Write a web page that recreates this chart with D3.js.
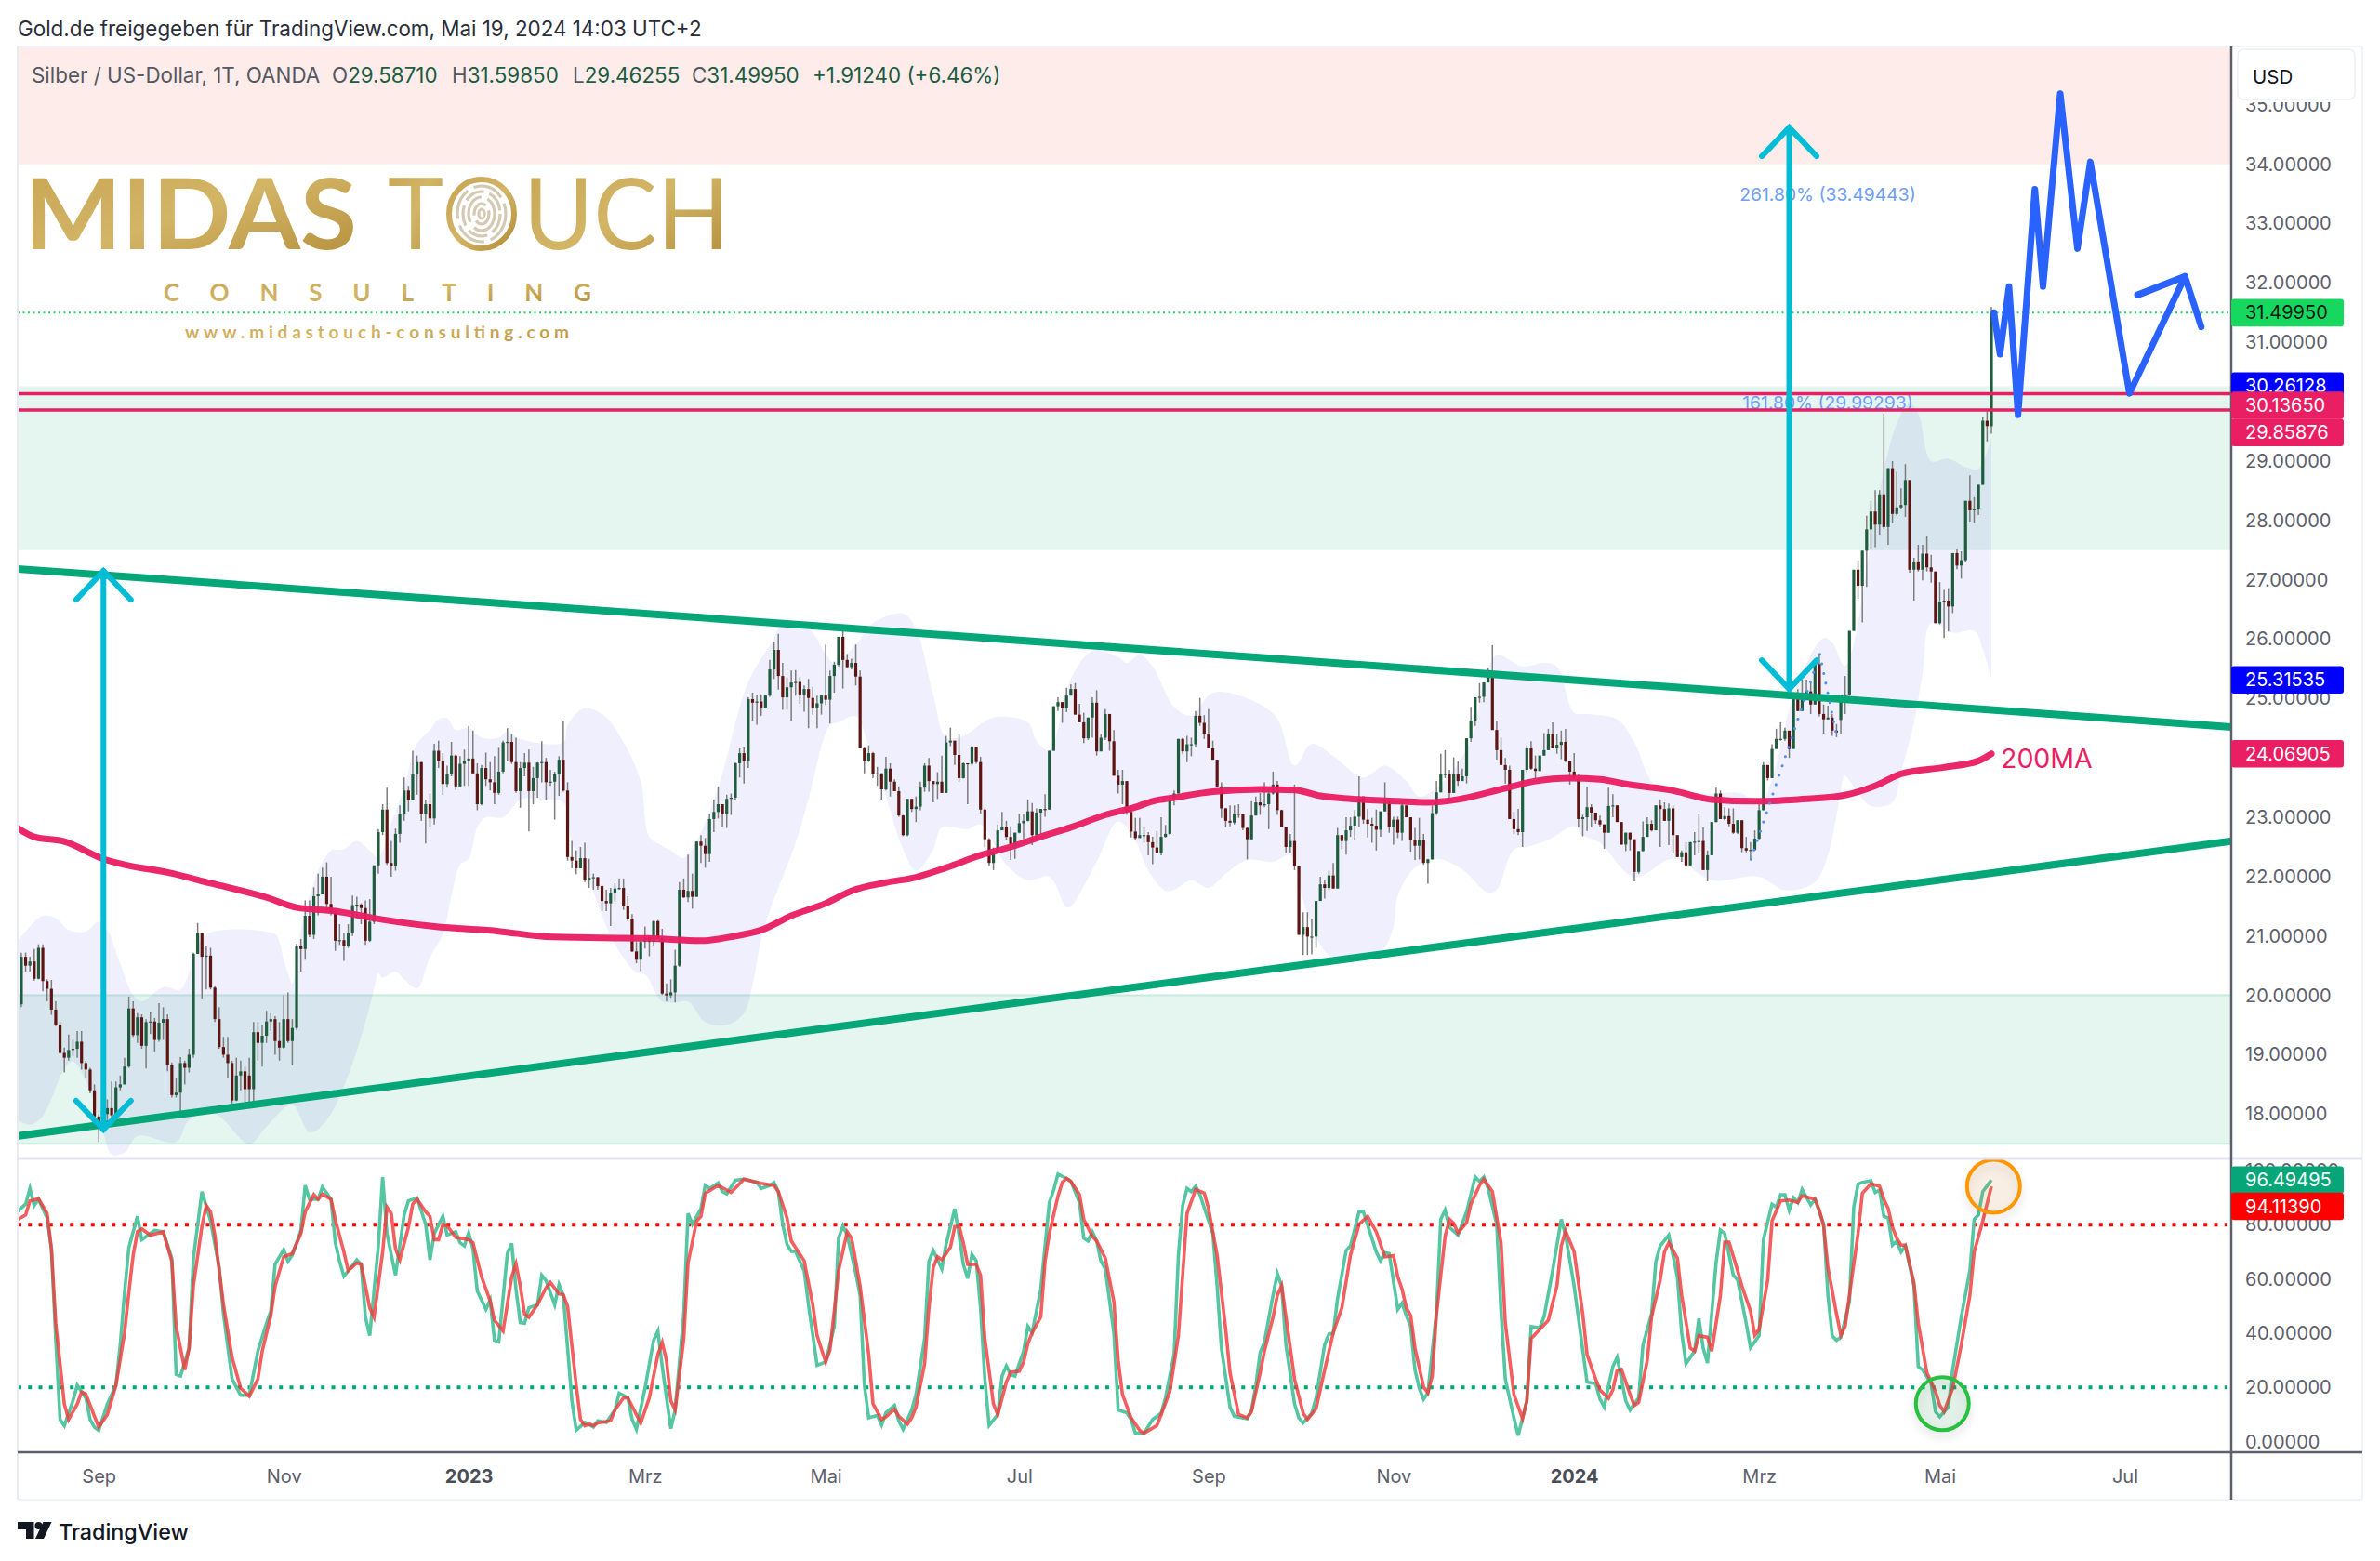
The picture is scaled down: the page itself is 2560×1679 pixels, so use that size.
<!DOCTYPE html>
<html><head><meta charset="utf-8">
<style>html,body{margin:0;padding:0;background:#fff}svg{display:block}text{font-family:Inter,Roboto,sans-serif}</style>
<script src="https://cdn.jsdelivr.net/npm/d3@7/dist/d3.min.js"></script></head><body>
<svg id="c" width="2560" height="1679"></svg>
<script>
// ---------- data ----------
const opens=[20.15,19.85,20.65,20.5,20.57,20.28,20.8,20.24,20.11,19.76,
19.5,19.03,18.95,19.08,19.1,19.22,18.86,18.75,18.4,17.96,
17.88,18.0,18.1,17.98,18.45,18.5,18.8,19.78,19.33,19.63,
19.15,19.55,19.56,19.25,19.54,19.6,18.83,18.32,18.36,18.86,
18.78,19.0,20.7,21.05,20.65,20.67,20.13,19.6,19.13,19.0,
18.86,18.23,18.65,18.72,18.65,18.42,19.38,19.2,19.32,19.56,
19.6,19.23,19.12,19.6,19.23,19.45,20.83,20.78,21.34,21.02,
21.67,21.7,22.0,21.54,21.4,20.92,20.93,20.83,21.05,21.52,
21.53,21.47,20.92,21.24,22.19,22.75,23.13,22.23,22.18,22.72,
23.06,23.45,23.29,23.72,23.93,23.06,23.22,22.98,24.12,23.95,
23.56,23.72,24.04,23.52,23.9,23.95,23.99,23.74,23.22,23.83,
23.64,23.59,23.41,23.77,24.26,24.27,23.93,23.44,23.83,23.92,
23.44,23.66,23.92,23.93,23.59,23.6,23.73,23.97,23.45,22.33,
22.27,22.14,22.31,21.94,21.98,21.99,21.84,21.59,21.55,21.73,
21.8,21.81,21.5,21.29,20.74,20.6,20.9,20.98,20.9,21.25,
20.96,20.03,20.0,20.05,20.5,21.78,21.65,21.76,21.66,22.59,
22.52,22.38,22.97,23.09,23.22,23.05,23.31,23.33,23.91,24.08,
23.95,24.99,24.93,24.95,24.85,25.05,25.49,25.82,25.38,25.02,
25.19,25.27,25.28,25.07,25.16,25.01,24.85,24.92,25.05,24.98,
25.38,25.57,26.04,25.65,25.53,25.6,25.37,24.16,23.95,24.08,
23.73,23.74,23.47,23.82,23.6,23.44,23.03,22.7,23.31,23.14,
23.18,23.5,23.87,23.61,23.56,23.6,23.41,24.26,24.29,24.05,
23.66,23.91,23.9,24.19,23.93,23.13,22.63,22.23,22.41,22.78,
22.84,22.67,22.55,22.74,22.9,22.94,23.1,22.7,23.08,23.14,
23.13,24.12,24.87,24.94,24.84,25.05,25.16,24.73,24.6,24.33,
24.68,24.93,24.11,24.34,24.74,24.28,23.7,23.55,23.61,23.09,
22.76,22.65,22.7,22.7,22.58,22.49,22.4,22.67,22.72,23.3,
23.4,24.32,24.11,24.23,24.23,24.71,24.59,24.41,24.16,23.97,
23.52,23.15,22.94,22.91,23.06,23.05,22.82,22.63,23.03,23.25,
23.2,23.22,23.4,23.55,23.12,22.84,22.5,22.6,22.18,21.02,
21.15,20.99,20.99,21.59,21.87,21.81,22.02,21.8,22.7,22.6,
22.78,22.86,23.01,23.35,22.96,22.89,22.86,22.79,23.1,23.31,
22.84,22.96,22.74,23.2,23.0,22.61,22.52,22.62,22.23,22.29,
23.07,23.42,23.73,23.73,23.41,23.73,23.61,23.69,24.33,24.63,
25.02,25.03,25.27,25.36,24.47,24.13,23.88,23.8,22.97,22.8,
22.75,23.8,24.16,23.82,23.78,24.04,24.13,24.4,24.16,24.22,
24.27,23.95,23.77,23.64,22.97,23.0,23.17,23.08,22.95,22.88,
22.74,23.19,23.2,22.92,22.54,22.74,22.63,22.08,22.43,22.67,
22.89,22.78,23.2,23.14,22.94,23.15,22.7,22.33,22.41,22.19,
22.58,22.59,22.6,22.11,22.36,22.92,23.4,22.97,23.02,22.89,
22.74,22.95,22.48,22.44,22.45,22.64,23.12,23.88,23.66,24.15,
24.32,24.32,24.46,24.15,24.99,24.79,25.05,25.12,24.9,25.58,
24.74,24.65,24.68,24.46,24.64,24.97,25.07,26.14,27.17,26.9,
27.49,27.85,28.15,27.93,28.44,27.89,28.88,28.11,28.22,28.26,
28.68,27.17,27.31,27.17,27.44,27.21,27.14,26.27,26.63,26.65,
26.55,27.45,27.24,27.33,28.33,28.17,28.2,28.6,29.68,29.5871];
const highs=[20.25,20.72,20.72,20.65,20.78,20.86,20.86,20.27,20.26,19.9,
19.55,19.12,19.34,19.25,19.4,19.4,18.9,18.78,18.5,18.0,
18.2,18.25,18.55,18.55,18.65,18.95,19.98,19.9,19.7,19.68,
19.6,19.72,19.62,19.87,19.8,19.68,18.87,18.6,18.96,18.9,
19.1,20.72,21.22,21.05,20.84,20.8,20.15,19.8,19.3,19.3,
18.9,18.95,18.9,18.8,18.95,19.55,19.55,19.5,19.74,19.7,
19.65,19.55,20.0,20.05,19.6,20.87,20.95,21.6,21.6,21.82,
22.05,22.15,22.24,22.0,21.45,21.2,21.05,21.2,21.68,21.66,
21.55,21.6,21.62,22.19,22.8,23.22,23.5,22.6,22.81,23.2,
23.67,23.53,24.12,24.04,23.93,23.3,23.4,24.24,24.29,24.08,
23.87,24.27,24.06,24.03,24.14,24.54,24.46,23.91,23.88,24.09,
23.93,24.03,24.17,24.29,24.5,24.4,24.34,23.93,24.08,24.14,
23.85,23.93,24.28,24.0,23.8,23.77,24.03,24.63,23.59,22.6,
22.44,22.5,22.57,22.3,22.05,22.0,21.86,21.78,21.81,21.89,
21.97,21.97,21.67,21.37,20.9,20.98,21.16,21.0,21.26,21.27,
21.12,20.2,20.27,20.77,21.91,21.97,22.37,22.05,22.59,22.7,
22.65,23.06,23.3,23.52,23.22,23.38,23.4,23.92,24.16,24.18,
25.02,25.1,25.07,25.07,25.05,25.65,25.96,26.09,25.6,25.36,
25.47,25.48,25.36,25.22,25.33,25.2,25.05,25.05,25.91,25.47,
25.62,26.04,26.14,25.75,25.67,25.91,25.47,24.18,24.21,24.1,
23.85,23.74,24.02,23.91,23.64,23.52,23.04,23.31,23.31,23.35,
23.6,23.91,24.0,23.61,23.76,24.04,24.37,24.51,24.29,24.4,
23.92,23.91,24.21,24.19,24.02,23.15,22.65,22.49,22.88,23.09,
22.94,22.85,22.74,23.06,23.05,23.3,23.24,23.15,23.14,23.39,
24.12,24.87,25.02,24.94,25.18,25.24,25.26,24.91,24.76,24.68,
25.02,25.14,24.4,24.82,24.74,24.47,23.8,23.8,23.61,23.19,
22.99,22.99,22.83,22.75,22.67,22.77,23.0,22.87,23.33,23.45,
24.32,24.34,24.37,24.34,24.79,25.01,24.72,24.82,24.29,23.97,
23.59,23.16,23.2,23.2,23.22,23.06,22.84,23.27,23.35,23.41,
23.59,23.46,23.77,23.61,23.13,22.84,22.72,23.55,22.18,21.4,
21.4,21.29,21.59,22.0,21.94,22.1,22.23,22.82,22.7,23.0,
23.0,23.12,23.69,23.35,23.14,22.99,23.13,23.1,23.59,23.31,
23.01,23.01,23.27,23.2,23.0,22.82,22.99,22.72,22.3,23.2,
23.61,24.07,24.13,23.8,24.01,23.94,23.82,24.33,24.86,25.02,
25.26,25.27,25.52,25.9,24.63,24.34,24.0,23.87,23.09,23.14,
23.8,24.21,24.28,24.04,24.04,24.42,24.49,24.6,24.4,24.46,
24.49,23.95,24.08,23.72,23.04,23.51,23.22,23.08,23.03,22.88,
23.5,23.39,23.2,22.92,22.74,22.74,22.63,22.43,22.93,23.0,
22.95,23.2,23.3,23.25,23.23,23.2,22.7,22.44,22.58,22.58,
22.75,23.06,22.83,22.44,22.92,23.5,23.45,23.17,23.15,23.15,
22.95,22.95,22.67,22.58,22.78,23.25,23.93,23.88,24.23,24.49,
24.6,24.51,24.46,25.02,25.16,25.32,25.32,25.3,25.6,25.74,
24.9,24.88,24.74,24.57,25.0,25.38,26.14,27.17,27.33,27.49,
28.08,28.33,28.51,28.51,29.8,28.88,29.0,28.82,28.54,28.95,
28.68,27.37,27.59,27.59,27.73,27.42,27.14,26.96,26.83,26.86,
27.45,27.52,27.48,28.33,28.76,28.39,28.6,29.74,29.84,31.5985];
const lows=[19.55,19.8,20.4,20.4,20.25,20.27,20.07,19.9,19.67,19.48,
19.02,18.7,18.9,18.98,18.95,18.75,18.6,18.35,17.9,17.53,
17.75,17.9,17.85,17.85,18.4,18.5,18.78,19.3,19.2,19.1,
18.77,19.35,19.05,19.22,19.25,18.72,18.28,18.28,17.95,18.5,
18.7,18.95,20.7,19.95,20.1,20.1,19.55,19.1,18.95,18.6,
18.08,18.22,18.4,18.2,18.2,18.2,18.9,18.8,19.2,19.4,
19.0,18.9,19.1,19.2,18.82,19.42,20.4,20.6,20.98,20.95,
21.35,21.7,21.4,21.35,20.75,20.85,20.58,20.8,21.0,21.3,
21.2,20.85,20.9,21.2,22.05,22.7,22.2,22.0,22.1,22.57,
22.94,23.1,23.29,23.38,22.94,22.56,22.84,22.88,23.83,23.38,
23.5,23.69,23.46,23.52,23.53,23.53,23.74,23.12,23.2,23.53,
23.45,23.22,23.38,23.74,23.94,23.9,23.41,23.16,23.69,22.76,
23.22,23.33,23.59,23.29,23.53,22.96,23.36,23.43,22.27,22.14,
22.04,22.14,21.91,21.81,21.78,21.78,21.42,21.42,21.17,21.58,
21.78,21.44,21.25,20.73,20.54,20.41,20.79,20.66,20.84,20.95,
20.01,19.9,19.96,19.88,20.48,21.64,21.57,21.46,21.66,22.23,
22.15,22.25,22.75,22.98,22.84,22.82,23.04,23.3,23.67,23.57,
23.83,24.63,24.56,24.71,24.84,25.03,25.33,25.15,24.81,24.81,
24.63,25.05,24.91,24.78,24.5,24.73,24.5,24.73,24.89,24.58,
25.1,25.54,25.17,25.52,25.49,25.22,24.16,23.74,23.93,23.66,
23.53,23.3,23.45,23.35,23.44,23.01,22.68,22.68,23.09,22.92,
23.12,23.43,23.43,23.25,23.31,23.41,23.41,24.2,23.88,23.6,
23.65,23.22,23.87,23.9,23.06,22.49,22.18,22.11,22.4,22.78,
22.62,22.28,22.3,22.73,22.59,22.93,22.53,22.62,22.72,23.01,
23.13,24.12,24.79,24.59,24.77,25.05,24.73,24.6,24.25,24.3,
24.34,24.04,24.11,24.3,24.12,23.7,23.4,23.22,23.04,22.66,
22.61,22.67,22.57,22.36,22.21,22.39,22.36,22.66,22.7,23.2,
23.4,24.06,23.93,24.03,24.18,24.54,24.32,24.16,23.97,23.52,
22.99,22.83,22.85,22.88,22.99,22.78,22.29,22.63,23.03,23.04,
23.17,22.8,23.38,23.04,22.84,22.4,22.4,22.11,21.02,20.68,
20.68,20.69,20.8,21.59,21.63,21.78,21.8,21.8,22.46,22.37,
22.67,22.62,22.84,22.89,22.66,22.57,22.44,22.67,23.1,22.74,
22.54,22.65,22.6,23.0,22.42,22.28,22.29,22.2,21.88,22.29,
23.04,23.42,23.66,23.25,23.41,23.53,23.61,23.57,24.27,24.54,
24.93,24.94,25.27,24.47,23.97,23.88,23.57,22.97,22.71,22.7,
22.5,23.76,23.8,23.65,23.78,24.04,24.13,24.16,24.07,23.98,
23.93,23.55,23.64,22.83,22.68,22.77,22.83,22.89,22.83,22.47,
22.74,23.0,22.92,22.54,22.43,22.44,21.92,22.05,22.43,22.67,
22.76,22.78,22.5,22.94,22.53,22.39,22.33,22.25,22.16,22.19,
22.36,22.39,22.11,21.92,22.36,22.92,22.97,22.95,22.85,22.72,
22.72,22.41,22.41,22.28,22.44,22.62,23.12,23.62,23.66,24.15,
24.29,24.29,24.0,24.15,24.79,24.79,24.98,24.74,24.9,24.7,
24.41,24.65,24.37,24.35,24.4,24.74,25.05,26.14,26.68,26.28,
26.88,27.53,27.55,27.76,27.86,27.59,27.95,28.08,28.2,28.06,
27.12,26.65,27.14,26.99,27.14,26.95,26.27,26.25,26.02,26.13,
26.44,27.18,27.02,27.3,27.98,27.96,28.09,28.6,29.33,29.46255];
const closes=[19.85,20.65,20.5,20.57,20.28,20.8,20.24,20.11,19.76,19.5,
19.03,18.95,19.08,19.1,19.22,18.86,18.75,18.4,17.96,17.88,
18.0,18.1,17.98,18.45,18.5,18.8,19.78,19.33,19.63,19.15,
19.55,19.56,19.25,19.54,19.6,18.83,18.32,18.36,18.86,18.78,
19.0,20.7,21.05,20.65,20.67,20.13,19.6,19.13,19.0,18.86,
18.23,18.65,18.72,18.42,18.42,19.38,19.2,19.32,19.56,19.6,
19.23,19.12,19.6,19.23,19.45,20.83,20.78,21.34,21.02,21.67,
21.7,22.0,21.54,21.4,20.92,20.93,20.83,21.05,21.52,21.53,
21.47,20.92,21.24,22.19,22.75,23.13,22.23,22.18,22.72,23.06,
23.45,23.29,23.72,23.93,23.06,23.22,22.98,24.12,23.95,23.56,
23.72,24.04,23.52,23.9,23.95,23.99,23.74,23.22,23.83,23.64,
23.59,23.41,23.77,24.26,24.27,23.93,23.44,23.83,23.92,23.44,
23.66,23.92,23.93,23.59,23.6,23.73,23.97,23.45,22.33,22.27,
22.14,22.31,21.94,21.98,21.99,21.84,21.59,21.55,21.73,21.8,
21.81,21.5,21.29,20.74,20.6,20.9,20.98,20.9,21.25,20.96,
20.03,20.0,20.05,20.5,21.78,21.65,21.76,21.66,22.59,22.52,
22.38,22.97,23.09,23.22,23.05,23.31,23.33,23.91,24.08,23.95,
24.99,24.93,24.95,24.85,25.05,25.49,25.82,25.38,25.02,25.19,
25.27,25.28,25.07,25.16,25.01,24.85,24.92,25.05,24.98,25.38,
25.57,26.04,25.65,25.53,25.6,25.37,24.16,23.95,24.08,23.73,
23.74,23.47,23.82,23.6,23.44,23.03,22.7,23.31,23.14,23.18,
23.5,23.87,23.61,23.56,23.6,23.41,24.26,24.29,24.05,23.66,
23.91,23.9,24.19,23.93,23.13,22.63,22.23,22.41,22.78,22.84,
22.67,22.55,22.74,22.9,22.94,23.1,22.7,23.08,23.14,23.13,
24.12,24.87,24.94,24.84,25.05,25.16,24.73,24.6,24.33,24.68,
24.93,24.11,24.34,24.74,24.28,23.7,23.55,23.61,23.09,22.76,
22.65,22.7,22.7,22.58,22.49,22.4,22.67,22.72,23.3,23.4,
24.32,24.11,24.23,24.23,24.71,24.59,24.41,24.16,23.97,23.52,
23.15,22.94,22.91,23.06,23.05,22.82,22.63,23.03,23.25,23.2,
23.22,23.4,23.55,23.12,22.84,22.5,22.6,22.18,21.02,21.15,
20.99,20.99,21.59,21.87,21.81,22.02,21.8,22.7,22.6,22.78,
22.86,23.01,23.35,22.96,22.89,22.86,22.79,23.1,23.31,22.84,
22.96,22.74,23.2,23.0,22.61,22.52,22.62,22.23,22.29,23.07,
23.42,23.73,23.73,23.41,23.73,23.61,23.69,24.33,24.63,25.02,
25.03,25.27,25.36,24.47,24.13,23.88,23.8,22.97,22.8,22.75,
23.8,24.16,23.82,23.78,24.04,24.13,24.4,24.16,24.22,24.27,
23.95,23.77,23.64,22.97,23.0,23.17,23.08,22.95,22.88,22.74,
23.19,23.2,22.92,22.54,22.74,22.63,22.08,22.43,22.67,22.89,
22.78,23.2,23.14,22.94,23.15,22.7,22.33,22.41,22.19,22.58,
22.59,22.6,22.11,22.36,22.92,23.4,22.97,23.02,22.89,22.74,
22.95,22.48,22.44,22.45,22.64,23.12,23.88,23.66,24.15,24.32,
24.32,24.46,24.15,24.99,24.79,25.05,25.12,24.9,25.58,24.74,
24.65,24.68,24.46,24.43,24.97,25.07,26.14,27.17,26.9,27.49,
27.85,28.15,27.93,28.44,27.89,28.88,28.11,28.22,28.26,28.68,
27.17,27.31,27.17,27.44,27.21,27.14,26.27,26.63,26.65,26.55,
27.45,27.24,27.33,28.33,28.17,28.2,28.6,29.68,29.59,31.4995];

const maBars=[0,4,11,20,25,35,45,58,65,74,83,97,112,123,136,147,159,167,173,180,188,194,202,209,216,224,231,238,245,253,260,264,269,278,289,297,303,310,321,328,335,346,353,361,368,374,385,394,404,414,424,432,438,448,456,459];
const maVals=[22.82,22.67,22.59,22.3,22.2,22.07,21.89,21.65,21.48,21.42,21.3,21.16,21.08,20.99,20.97,20.96,20.92,21.0,21.1,21.34,21.55,21.76,21.9,21.99,22.15,22.36,22.5,22.67,22.83,23.04,23.17,23.27,23.33,23.43,23.47,23.46,23.36,23.31,23.27,23.25,23.3,23.49,23.61,23.66,23.64,23.56,23.45,23.3,23.27,23.3,23.36,23.53,23.73,23.84,23.95,24.07];

const upBars=[0,3,6,9,12,16,19,21,24,27,29,34,38,41,44,60,61,62,63,64,66,70,72,73,76,79,82,84,87,90,93,96,98,100,102,105,108,112,114,117,127,128,132,137,141,145,147,150,152,155,158,163,170,176,177,184,188,190,195,199,206,209,213,216,220,227,235,237,240,245,250,256,258,260,261,264,269,273,278,288,293,297,301,306,313,318,323,326,331,338,341,344,350,355,358,362,365,372,376,381,392,401,405,414,420,422,425,433,437,440,442,445,449,453,456,459];
const upVals=[20.9,21.16,21.34,21.3,21.1,21.08,21.24,21.1,20.53,20.0,19.9,20.14,20.1,20.6,21.03,21.03,20.9,20.6,20.37,20.2,21.1,22.1,22.36,22.44,22.46,22.6,22.44,22.33,22.9,23.5,24.24,24.47,24.65,24.67,24.47,24.5,24.34,24.34,24.45,24.32,24.26,24.55,24.84,24.68,24.26,23.61,22.67,22.52,22.44,22.31,22.6,23.5,25.28,26.01,26.17,26.17,25.75,25.6,25.91,26.27,26.43,26.17,25.07,24.34,24.37,24.68,24.6,24.29,24.13,25.33,25.8,25.7,25.6,25.7,25.75,25.54,24.86,24.71,25.1,24.94,24.66,23.87,24.24,24.03,23.67,23.87,23.61,23.35,23.56,24.29,25.28,25.73,25.54,25.6,25.54,24.76,24.74,24.65,24.26,23.53,23.4,23.4,23.2,25.27,26.02,25.94,25.55,28.51,29.63,29.97,29.8,29.0,29.04,28.9,28.87,29.4];
const loBars=[0,3,6,11,13,17,20,22,25,28,37,40,46,54,58,64,68,72,77,81,83,84,85,88,90,93,96,99,101,103,105,107,109,113,117,122,127,129,133,137,140,144,146,150,153,156,160,165,169,171,173,175,181,184,189,191,195,198,202,206,209,213,215,221,224,230,235,240,244,245,251,256,260,263,267,269,273,277,281,286,292,296,299,303,306,317,320,321,325,330,336,342,344,348,351,356,362,364,368,376,385,394,405,411,418,421,423,425,426,431,436,438,441,443,445,450,455,457,459];
const loVals=[17.9,17.82,17.97,18.76,18.89,18.39,17.71,17.32,17.35,17.63,17.53,17.9,18.0,17.5,17.79,18.16,17.69,17.9,18.65,19.55,20.1,20.37,20.3,20.4,20.27,20.12,20.64,21.03,21.68,22.2,22.3,22.83,23.0,23.0,23.3,23.3,23.25,22.57,21.94,21.16,20.74,20.38,20.35,19.9,19.88,19.9,19.55,19.5,19.7,20.17,20.95,21.42,22.57,23.3,24.55,24.6,24.7,24.2,23.35,22.46,22.1,22.46,22.83,22.8,22.88,22.2,21.94,22.0,21.48,21.5,22.25,22.93,22.6,22.1,21.76,21.78,21.94,21.81,22.05,22.28,22.25,22.36,21.6,20.85,20.64,20.74,21.16,21.68,22.15,22.3,22.12,21.73,21.78,22.46,22.5,22.62,22.85,22.7,22.57,21.99,22.3,21.94,22.0,21.77,21.91,22.36,23.03,23.7,23.62,23.19,23.25,23.76,24.6,25.43,26.27,26.11,26.14,25.83,25.32];

const kBars=[0,2,3,4,5,7,8,9,10,11,13,14,16,17,18,19,21,23,24,25,26,27,28,29,31,32,34,36,37,38,40,41,43,45,47,48,50,52,54,56,58,59,60,62,63,64,66,67,68,70,71,73,74,75,76,79,80,81,82,84,85,86,88,90,91,93,95,96,97,99,100,102,103,104,105,106,107,109,110,111,112,114,115,116,117,118,119,121,122,123,125,126,127,129,130,132,134,135,137,139,140,142,143,144,146,148,149,150,151,152,153,155,156,157,159,160,161,163,164,165,167,169,171,172,173,175,176,177,178,179,180,181,182,183,184,186,188,190,191,192,193,195,196,197,198,200,201,202,204,205,206,208,209,211,212,213,215,216,218,219,220,221,222,223,224,225,226,228,229,230,231,232,234,235,236,238,240,241,242,244,245,247,248,249,250,251,252,253,255,256,258,259,260,262,264,266,267,269,270,271,272,273,274,275,278,279,280,282,283,286,287,288,289,290,292,293,294,295,297,298,299,301,302,304,305,306,307,309,310,312,313,316,317,318,319,321,322,323,324,325,326,327,328,330,331,332,333,335,337,339,340,341,342,344,345,346,348,349,351,352,354,355,357,359,360,362,365,367,368,369,370,371,372,373,374,375,377,378,380,381,382,384,386,387,388,390,391,392,393,395,396,397,399,400,402,403,405,406,408,409,410,411,412,413,414,415,417,418,420,421,422,423,424,426,427,428,429,431,432,433,434,435,436,437,438,439,441,442,443,445,446,447,449,450,452,454,455,456,457,459];
const kVals=[84.8,87.6,93.4,87.1,89.4,82.5,71.1,37.9,8.2,5.9,15.1,20.8,16.2,8.2,5.4,4.2,13.9,20.8,35.7,55.1,71.6,77.4,83.1,74.5,76.8,77.9,77.4,67.6,24.8,24.2,34.5,67.6,92.2,81.4,64.2,47.1,23.1,17.1,17.1,33.4,43.7,48.2,65.4,70.8,66.5,68.8,77.9,94.5,89.4,89.4,93.9,89.4,73.4,66.5,61,67,65.4,45.9,39.1,72.2,97.6,76.8,61.4,83.6,88.8,89.9,80.2,67.1,76.8,83.1,76.2,77.4,73.4,72.2,77,71.1,55.6,48.8,52.2,37.4,36.8,69.4,73.1,56.2,43.9,43.7,49.4,50.5,61.4,59.4,50.5,57.9,53.9,15.1,4.2,7.1,5.4,7.7,7.1,11.7,17.9,16.2,8.2,4.6,19.7,37.4,40.8,27.7,16.2,4.8,11.7,47.1,84.2,80.2,85.9,94.5,93.4,95.4,92.2,91.4,96.4,96.8,96,95.6,93.4,94.5,95.6,92.2,80.2,72.8,70.2,70.2,66.5,63.1,50.5,28.2,29.4,42.5,75.1,79.6,76.2,62,54,20.8,8.8,9.7,6.2,10.7,13.4,7.7,4.6,11.7,17.4,38,66.5,70.5,63.7,72.8,85.9,76.2,65.4,60.2,69,66.7,49.4,23.1,6,10,24.2,27.9,24.8,24.2,33.4,42.5,40.2,56.2,88.2,92.8,98.7,97.1,96,88.2,75.1,74,77.4,74,66.5,63.7,40.2,11.7,10.7,8.2,3.1,3.1,8.2,10.5,16.2,32.2,68.8,87.1,93.4,92.2,94.2,91.1,76.8,57.4,34.5,12.8,9.4,8.5,11.7,20.8,32.8,36.8,54,62,57.4,35.7,14,8.8,6.9,10.5,16.2,35.7,39.7,40,52.8,70.5,72.2,84.8,84.8,70,66.7,69.7,69.4,48.8,51.1,46.5,42.5,26.5,19.7,15.7,18,48.2,82,85.4,79.1,76.2,84.8,97.6,96,97.6,93.4,80.2,48.2,23.1,8.8,2.3,15.1,42.5,42,46,63.1,82,76.2,57.4,22,21.4,15.7,12.8,20.8,27.7,31.1,23.1,15.1,11.7,16.2,35.7,47.1,66.5,72.2,76.2,60.8,40.2,28.8,33.4,45.4,34.5,29,66,78,76.8,61.4,59.7,43.7,34.7,39.1,74.5,87.6,86.5,91.1,91.1,85.4,90,88.2,93,87.3,89.4,80.2,54,39.1,37.4,38.5,51.7,86.5,95,95.6,96.2,91.9,92.8,83.1,82.5,72.5,74,70,72.2,57.4,27.7,26.5,21.4,11.1,9.2,12.8,26.5,46,63.1,82,83.7,92.2,96.49];
const dBars=[0,2,3,5,7,8,9,11,12,14,15,16,18,19,21,23,25,26,27,28,29,31,34,36,37,39,40,41,43,44,45,46,48,50,52,54,56,57,59,60,62,64,66,67,69,70,71,73,74,76,77,79,80,82,83,85,86,87,88,89,91,92,93,95,96,97,98,99,100,102,105,106,108,110,111,113,115,116,117,118,119,121,123,124,126,127,128,130,131,132,133,134,135,138,139,141,142,145,147,149,150,151,152,153,155,156,158,159,160,163,166,169,173,176,177,179,180,183,185,186,188,189,190,191,193,194,195,196,198,199,201,202,204,205,207,208,209,211,212,213,214,215,217,218,219,220,221,223,224,225,227,228,230,231,233,234,235,236,238,239,240,242,243,244,245,247,248,250,251,253,255,256,257,259,261,262,265,266,268,270,272,274,276,277,279,281,282,284,286,287,289,290,292,293,294,295,297,299,300,302,304,306,308,310,312,314,316,318,320,321,322,323,324,325,327,328,329,330,332,333,334,335,337,338,340,341,343,345,346,348,350,351,352,354,356,358,359,360,362,364,365,367,368,370,371,372,373,375,376,377,379,380,382,383,384,386,387,389,390,391,393,394,396,397,398,400,401,403,404,405,407,408,410,412,414,415,418,419,420,421,423,424,425,426,428,429,431,433,434,435,436,437,438,439,441,442,444,446,447,448,450,452,454,455,457,459];
const dVals=[81.9,83.6,88.8,89.6,84.2,71.1,43.7,13.9,8.2,13.9,18.3,17.6,9.4,5.4,10,20.8,40.2,55.1,68.8,77.4,78.5,76.2,77.4,66.5,42.5,26.5,34.5,57.4,79.6,87.1,84.8,76.2,50.5,31.1,19.7,16.8,23.1,33.4,46.5,57.4,68.2,69.4,76.8,84.8,91.1,89.4,91.3,89.4,81.9,69.9,63.1,65.9,65.4,49.4,45.9,69.9,86.5,84.2,71.1,67.1,79.1,87.6,89.4,84.8,83.1,74.5,74.5,80.2,79.6,75.4,74.5,73.4,60.8,51.9,44.8,40.8,60.8,65.6,57.4,47.1,45.9,50.5,56.8,58.7,54.5,54.2,49.9,20.8,8.2,5.9,6.5,5.9,6.9,7.7,11.7,16.2,16.2,6.9,16.2,32.2,36.6,29.9,15.1,11.7,37.9,65.9,81.4,83.1,91.6,94.5,91.9,96.8,95.3,94.5,92.2,82.5,74,66.7,50.5,39.1,29.4,33.9,48.2,63.1,77.4,75.1,66.5,57.4,32.2,14,8.2,9.1,12,9.4,6.5,8.8,12.8,28.8,49.4,64.2,68.2,67.1,71.7,79.3,79.6,73.4,65.4,65.4,61.4,38,14,10,22,25.6,26,29.4,36.2,40.2,46,66.5,76.8,90.5,95.6,97.1,96,91.1,82,75.7,74,67.7,51.7,30,17.4,8.8,4.2,3.1,6,10,18.5,39.1,84.2,93,91.7,86,68.8,41.4,25.4,10,8.8,11.1,25.4,33.4,46,54,57.6,46,23.1,10.5,8.2,12.2,26.5,40.2,49.4,68.8,80.2,83.1,77.4,68.2,68.6,60.8,56.2,49.4,46.5,34.5,20.2,18,24.2,47.1,75.7,82,80.5,77,80.8,87.6,94.5,96.8,92.2,73.4,43.7,17.4,8.5,15.1,38,41.4,44.8,57.4,72.2,77.7,70,47.1,32.2,23.1,19.1,16,19.1,26.3,26.7,17.4,13.4,14.5,30,46,59.7,70,73.4,67.7,54,34.5,33.4,39.1,38.5,33.4,54,73.6,73.6,63.1,57.4,48.2,39.3,41.4,59.7,81.4,88.8,89.1,88.2,90.7,89.4,85.4,79.6,64.2,47.1,39.3,42.5,54,76.8,91.6,95.1,94.2,89.4,86,79.1,75.1,72.5,72.5,58.5,43.7,25.4,18.5,13.4,11.1,19.7,35.7,54,70,81.4,94.11];

const trendUpperBars=[-1,515],trendUpperVals=[27.19,24.52];
const trendLowerBars=[-1,515],trendLowerVals=[17.62,22.6];
const forecastBars=[459.6,461,463.1,465.2,469.1,471,475,479,482,491.1,504,507.8];
const forecastVals=[31.5,30.8,31.94,29.78,33.58,31.94,35.19,32.58,34.04,30.14,32.11,31.26];
const stubBars=[493,504],stubVals=[31.8,32.11];
const fibBars=[403.1,419.1,422.9],fibVals=[22.29,25.75,24.42];
const arrowLeft={bar:20.1,top:27.15,bottom:17.74};
const arrowRight={bar:412,top:34.62,bottom:25.16};

const priceTicks=[18,19,20,21,22,23,24,25,26,27,28,29,31,32,33,34,35];
const oscTicks=[0,20,40,60,80,100];
const xLabels=["Sep","Nov","2023","Mrz","Mai","Jul","Sep","Nov","2024","Mrz","Mai","Jul"];
const xTickBars=[19,62,105,146,188,233,277,320,362,405,447,490];
const priceTags=[["31.49950",31.4995,"#16d85f","#0b1a12"],["30.26128",30.26128,"#0000ff","#fff"],["30.13650",29.94,"#e91e63","#fff"],["29.85876",29.48,"#e91e63","#fff"],["25.31535",25.31535,"#0000ff","#fff"],["24.06905",24.06905,"#e91e63","#fff"]];
const oscTags=[["96.49495",96.49495,"#06a678","#fff"],["94.11390",86.8,"#ff0000","#fff"]];

// ---------- layout ----------
const L=19,R=2400,OUT=2541,TOP=50,SEP=1246,PB=1562,BOT=1613;
const svg=d3.select("#c");
const x=d3.scaleLinear().domain([0,459]).range([18.3,2142]);
const y=d3.scaleLinear().domain([34,18]).range([176.7,1198.3]);
const yo=d3.scaleLinear().domain([0,100]).range([1550.7,1259]);
const defs=svg.append("defs");
defs.append("clipPath").attr("id","mp").append("rect").attr("x",L).attr("y",TOP).attr("width",R-L).attr("height",SEP-TOP);
defs.append("clipPath").attr("id","op").append("rect").attr("x",L).attr("y",SEP).attr("width",R-L).attr("height",PB-SEP);
const gr=defs.append("linearGradient").attr("id","gold").attr("x1","0").attr("x2","1").attr("y1","0").attr("y2","1");
gr.append("stop").attr("offset","0").attr("stop-color","#c6a452");
gr.append("stop").attr("offset",".5").attr("stop-color","#d3b566");
gr.append("stop").attr("offset","1").attr("stop-color","#b28c38");

const main=svg.append("g").attr("clip-path","url(#mp)");
const osc=svg.append("g").attr("clip-path","url(#op)");
const bandRect=(a,b,f)=>main.append("rect").attr("x",L).attr("width",R-L).attr("y",a).attr("height",b-a).attr("fill",f);
bandRect(TOP,y(34),"#fdecea");
bandRect(y(30.26128),y(27.5),"#e5f5ef");
bandRect(y(20),y(17.5),"#e5f5ef");
[20,17.5].forEach(v=>main.append("line").attr("x1",L).attr("x2",R).attr("y1",y(v)).attr("y2",y(v)).attr("stroke","#c8eadd").attr("stroke-width",2));

// bollinger envelope
const up=upBars.map((b,i)=>[x(b),y(upVals[i])]);
const lo=loBars.map((b,i)=>[x(b),y(loVals[i])]).reverse();
const edge=d3.line().curve(d3.curveCatmullRom.alpha(.5));
main.append("path").attr("d",edge(up)+edge(lo).replace(/^M/,"L")+"Z")
 .attr("fill","rgba(100,100,235,.1)").attr("stroke","none");

// 31.5 dotted
main.append("line").attr("x1",L).attr("x2",R).attr("y1",y(31.4995)).attr("y2",y(31.4995)).attr("stroke","#1ed760").attr("stroke-width",2).attr("stroke-dasharray","2 3.5");

// fib labels
const fibTxt=(t,v)=>main.append("text").text(t).attr("x",1966).attr("y",v).attr("text-anchor","middle").attr("dominant-baseline","central").attr("fill","#6d9ef8").attr("font-size",19.3);
fibTxt("261.80% (33.49443)",209);
fibTxt("161.80% (29.99293)",433);

// candles
const idx=d3.range(closes.length);
main.append("g").selectAll("line").data(idx).join("line").attr("x1",i=>x(i)).attr("x2",i=>x(i)).attr("y1",i=>y(highs[i])).attr("y2",i=>y(lows[i])).attr("stroke","#7c7c7c").attr("stroke-width",1.5);
main.append("g").selectAll("rect").data(idx).join("rect").attr("x",i=>x(i)-1.6).attr("width",3.2)
 .attr("y",i=>y(Math.max(opens[i],closes[i]))).attr("height",i=>Math.max(1.2,Math.abs(y(opens[i])-y(closes[i]))))
 .attr("fill",i=>closes[i]>=opens[i]?"#1f5c3e":"#5e1512");

// horizontal pink
[30.1365,29.85876].forEach(v=>main.append("line").attr("x1",L).attr("x2",R).attr("y1",y(v)).attr("y2",y(v)).attr("stroke","#e91e63").attr("stroke-width",3.5));

// trend lines
const ln=d3.line();
const pl=(b,v)=>b.map((d,i)=>[x(d),y(v[i])]);
[[trendUpperBars,trendUpperVals],[trendLowerBars,trendLowerVals]].forEach(([b,v])=>main.append("path").attr("d",ln(pl(b,v))).attr("fill","none").attr("stroke","#05a677").attr("stroke-width",8));

// 200 MA
main.append("path").attr("d",d3.line().curve(d3.curveMonotoneX)(pl(maBars,maVals))).attr("fill","none").attr("stroke","#e91e63").attr("stroke-width",7).attr("stroke-linecap","round").attr("opacity",.96);
main.append("text").text("200MA").attr("x",2152).attr("y",815).attr("dominant-baseline","central").attr("fill","#e91e63").attr("font-size",28.5);

// fib dotted line
main.append("path").attr("d",ln(pl(fibBars,fibVals))).attr("fill","none").attr("stroke","#4f8ff7").attr("stroke-width",3).attr("stroke-linecap","round").attr("stroke-dasharray","0.1 10.5");

// cyan double arrows
function arrow(a){const X=x(a.bar),t=y(a.top),b=y(a.bottom),hw=29.5,hh=31;
 const g=main.append("g").attr("fill","none").attr("stroke","#00bcd4").attr("stroke-width",6).attr("stroke-linecap","round").attr("stroke-linejoin","miter");
 g.append("path").attr("d",ln([[X,t],[X,b]]));
 g.append("path").attr("d",ln([[X-hw,t+hh],[X,t],[X+hw,t+hh]]));
 g.append("path").attr("d",ln([[X-hw,b-hh],[X,b],[X+hw,b-hh]]));}
arrow(arrowLeft);arrow(arrowRight);

// blue forecast
main.append("path").attr("d",ln(pl(forecastBars,forecastVals))).attr("fill","none").attr("stroke","#2962ff").attr("stroke-width",7).attr("stroke-linejoin","round").attr("stroke-linecap","round");
main.append("path").attr("d",ln(pl(stubBars,stubVals))).attr("fill","none").attr("stroke","#2962ff").attr("stroke-width",7.5).attr("stroke-linecap","round");

// logo
const logo=svg.append("g").attr("fill","url(#gold)");
logo.append("text").text("MIDAS").attr("x",26).attr("y",268).attr("font-size",106).attr("font-weight",700).attr("textLength",358).attr("lengthAdjust","spacingAndGlyphs").style("font-family","Lato");
logo.append("text").text("T").attr("x",417).attr("y",268).attr("font-size",106).attr("font-weight",400).attr("textLength",60).attr("lengthAdjust","spacingAndGlyphs").style("font-family","Lato");
logo.append("text").text("UCH").attr("x",563).attr("y",268).attr("font-size",106).attr("font-weight",400).attr("textLength",222).attr("lengthAdjust","spacingAndGlyphs").style("font-family","Lato");
logo.append("ellipse").attr("cx",518).attr("cy",230).attr("rx",35).attr("ry",37).attr("fill","none").attr("stroke","url(#gold)").attr("stroke-width",6);
[[26,30],[20,24],[14,18],[8,11],[3,5]].forEach(([a,b],k)=>logo.append("ellipse").attr("cx",518).attr("cy",230).attr("rx",a).attr("ry",b).attr("fill","none").attr("stroke","#d4cab4").attr("stroke-width",3.2).attr("stroke-dasharray",k%2?"22 6":"34 7"));
logo.append("text").text("CONSULTING").attr("x",176).attr("y",324).attr("font-size",26).attr("font-weight",700).attr("textLength",460).attr("lengthAdjust","spacing").style("font-family","Lato");
logo.append("text").text("www.midastouch-consulting.com").attr("x",199).attr("y",364).attr("font-size",19).attr("font-weight",700).attr("textLength",413).attr("lengthAdjust","spacing").style("font-family","Lato");

// oscillator
[[80,"#ff0000"],[20,"#00a676"]].forEach(([v,c])=>osc.append("line").attr("x1",L).attr("x2",R-5).attr("y1",yo(v)).attr("y2",yo(v)).attr("stroke",c).attr("stroke-width",4).attr("stroke-dasharray","4 7.25"));
const ol=d3.line();
osc.append("path").attr("d",ol(kBars.map((b,i)=>[x(b),yo(kVals[i])]))).attr("fill","none").attr("stroke","#55c6a2").attr("stroke-width",3.6);
osc.append("path").attr("d",ol(dBars.map((b,i)=>[x(b),yo(dVals[i])]))).attr("fill","none").attr("stroke","#f23b3b").attr("stroke-width",3.6).attr("opacity",.82);
const circ=(b,v,st,fi)=>svg.append("circle").attr("cx",x(b)).attr("cy",yo(v)).attr("r",28.5).attr("fill",fi).attr("stroke",st).attr("stroke-width",4).style("filter","drop-shadow(0 6px 5px rgba(0,0,0,.13))");
circ(447.6,14,"#27c13f","rgba(60,160,90,.13)");
circ(459.5,94.2,"#ff9800","rgba(230,150,60,.13)");

// frame
const fr=svg.append("g");
const hl=(x1,x2,yy,c,w)=>fr.append("line").attr("x1",x1).attr("x2",x2).attr("y1",yy).attr("y2",yy).attr("stroke",c).attr("stroke-width",w);
const vl=(xx,y1,y2,c,w)=>fr.append("line").attr("x1",xx).attr("x2",xx).attr("y1",y1).attr("y2",y2).attr("stroke",c).attr("stroke-width",w);
hl(L,OUT,TOP,"#f0f3fa",2);hl(L,OUT,BOT,"#f0f3fa",2);vl(L,TOP,BOT,"#e9ebf3",2);vl(OUT,TOP,BOT,"#f0f3fa",2);
hl(L,OUT,SEP,"#e3e3ef",3);hl(L,OUT,PB,"#5d606b",2.5);vl(R,TOP,BOT,"#5d606b",2.5);

// axes
const axStyle=g=>{g.select(".domain").remove();g.selectAll("text").attr("fill","#5d606b").attr("font-size",20).style("font-family","Inter,Roboto,sans-serif");};
svg.append("g").attr("transform",`translate(${R},0)`).call(d3.axisRight(y).tickValues(priceTicks).tickSize(0).tickPadding(15).tickFormat(d3.format(".5f"))).call(axStyle);
svg.append("g").attr("transform",`translate(${R},0)`).call(d3.axisRight(yo).tickValues(oscTicks).tickSize(0).tickPadding(15).tickFormat(d3.format(".5f"))).call(axStyle);
svg.append("g").attr("transform",`translate(0,${PB+19})`).call(d3.axisBottom(x).tickValues(xTickBars).tickSize(0).tickPadding(0).tickFormat((d,i)=>xLabels[i])).call(axStyle)
 .selectAll("text").attr("font-weight",(d,i)=>/^\d/.test(xLabels[i])?700:400).attr("fill",(d,i)=>/^\d/.test(xLabels[i])?"#4a4d57":"#5d606b");

// price tags
const tag=(t,yy,f,c)=>{svg.append("rect").attr("x",R).attr("y",yy-14.8).attr("width",121).attr("height",29.6).attr("rx",3).attr("fill",f);
 svg.append("text").text(t).attr("x",R+15).attr("y",yy).attr("dominant-baseline","central").attr("fill",c).attr("font-size",20);};
priceTags.forEach(d=>tag(d[0],y(d[1]),d[2],d[3]));
oscTags.forEach(d=>tag(d[0],yo(d[1]),d[2],d[3]));

// USD button (covers the top of the 35 tick, as in the source)
svg.append("rect").attr("x",2402).attr("y",52).attr("width",137).attr("height",58).attr("fill","#fff");
svg.append("rect").attr("x",2407).attr("y",53).attr("width",126).attr("height",54).attr("rx",6).attr("fill","#fff").attr("stroke","#eceef4").attr("stroke-width",1.5);
svg.append("text").text("USD").attr("x",2423).attr("y",82).attr("dominant-baseline","central").attr("fill","#131722").attr("font-size",20.5);

// titles
svg.append("text").text("Gold.de freigegeben für TradingView.com, Mai 19, 2024 14:03 UTC+2").attr("x",19).attr("y",30).attr("dominant-baseline","central").attr("fill","#2a2e39").attr("font-size",22.4);
const head=(parts,xx)=>{const t=svg.append("text").attr("x",xx).attr("y",80).attr("dominant-baseline","central").attr("font-size",22.4);
 parts.forEach(([s,c])=>t.append("tspan").text(s).attr("fill",c));};
head([["Silber / US-Dollar, 1T, OANDA","#55585f"]],34);
[["O",357,"29.58710"],["H",486,"31.59850"],["L",616,"29.46255"],["C",744,"31.49950"]].forEach(([a,xx,v])=>head([[a,"#55585f"],[v,"#1c5c42"]],xx));
head([["+1.91240 (+6.46%)","#1c5c42"]],874);

// TradingView mark
const tv=svg.append("g").attr("fill","#131722");
tv.append("path").attr("d","M19 1637h17.5v18h-8.5v-10h-9z");
tv.append("circle").attr("cx",41.5).attr("cy",1641).attr("r",4);
tv.append("path").attr("d","M46.5 1637H55.5L47 1655H38z");
svg.append("text").text("TradingView").attr("x",63).attr("y",1647).attr("dominant-baseline","central").attr("fill","#131722").attr("font-size",23.3).attr("font-weight",500);
</script>
</body></html>
